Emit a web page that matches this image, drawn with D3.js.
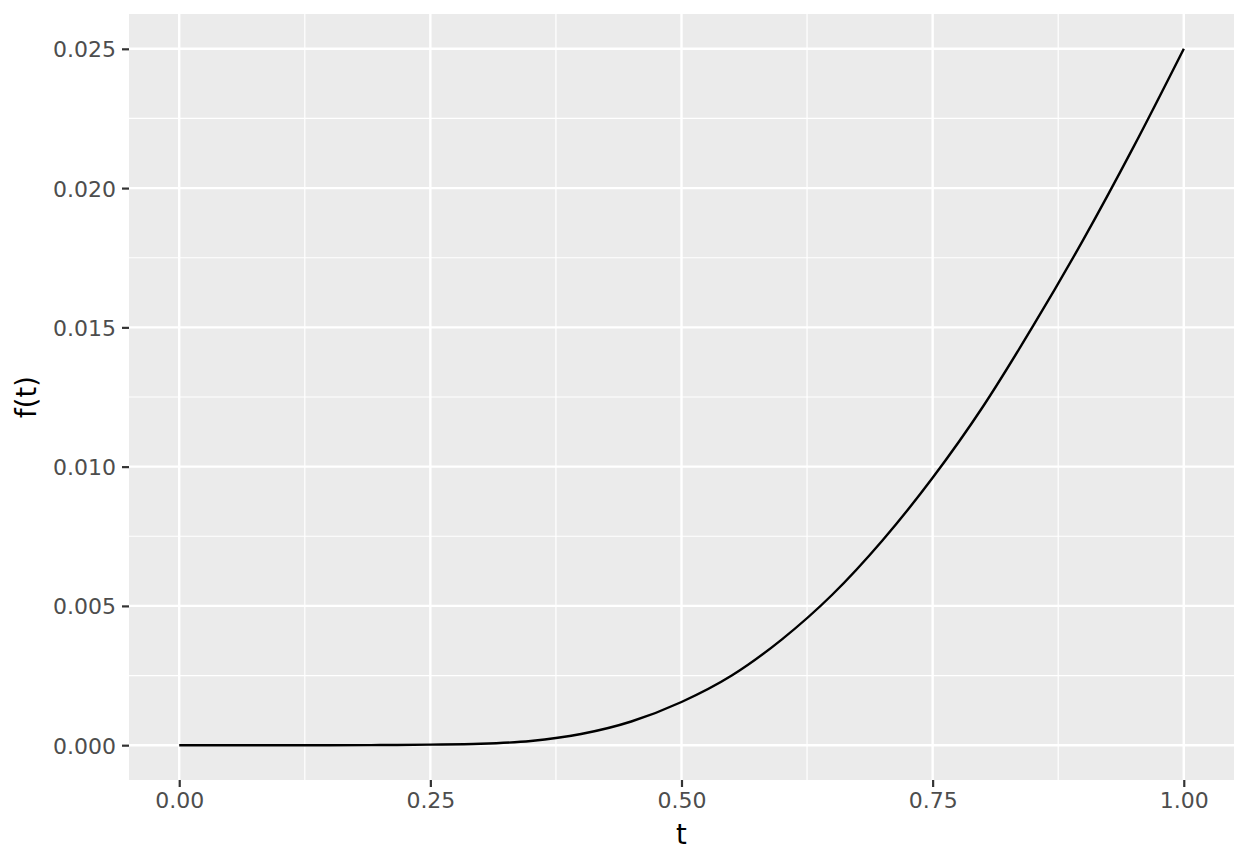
<!DOCTYPE html>
<html>
<head>
<meta charset="utf-8">
<script src="https://cdn.jsdelivr.net/npm/d3@7"></script>
<style>
  body { margin: 0; background: #fff; }
  svg { display: block; font-family: "DejaVu Sans", sans-serif; }
</style>
</head>
<body>
<svg id="chart" width="1248" height="865" viewBox="0 0 1248 865"></svg>
<script>
// values
const tValues = [0.00, 0.05, 0.10, 0.15, 0.20, 0.25, 0.30, 0.35, 0.40, 0.45, 0.50,
                 0.55, 0.60, 0.65, 0.70, 0.75, 0.80, 0.85, 0.90, 0.95, 1.00]
const fValues = [0, 0, 0, 0, 0.000005, 0.00002, 0.00005, 0.00015, 0.0004, 0.00085, 0.00155,
                 0.0025, 0.0038, 0.0054, 0.00735, 0.0096, 0.01215, 0.01505, 0.01815, 0.02148, 0.025]
const xTicks = [0, 0.25, 0.5, 0.75, 1]
const xMinor = [0.125, 0.375, 0.625, 0.875]
const yTicks = [0, 0.005, 0.01, 0.015, 0.02, 0.025]
const yMinor = [0.0025, 0.0075, 0.0125, 0.0175, 0.0225]

const svg = d3.select("#chart")
const panel = {left: 129, top: 14, right: 1234, bottom: 780}

const x = d3.scaleLinear()
    .domain([-0.05, 1.05])
    .range([panel.left, panel.right])
const y = d3.scaleLinear()
    .domain([-0.00125, 0.02625])
    .range([panel.bottom, panel.top])

// panel background
svg.append("rect")
    .attr("x", panel.left)
    .attr("y", panel.top)
    .attr("width", panel.right - panel.left)
    .attr("height", panel.bottom - panel.top)
    .attr("fill", "#EBEBEB")

const grid = svg.append("g").attr("stroke", "#fff")

grid.selectAll(".xminor").data(xMinor).enter().append("line")
    .attr("x1", d => x(d)).attr("x2", d => x(d))
    .attr("y1", panel.top).attr("y2", panel.bottom)
    .attr("stroke-width", 1.2)
grid.selectAll(".yminor").data(yMinor).enter().append("line")
    .attr("y1", d => y(d)).attr("y2", d => y(d))
    .attr("x1", panel.left).attr("x2", panel.right)
    .attr("stroke-width", 1.2)
grid.selectAll(".xmajor").data(xTicks).enter().append("line")
    .attr("x1", d => x(d)).attr("x2", d => x(d))
    .attr("y1", panel.top).attr("y2", panel.bottom)
    .attr("stroke-width", 2.4)
grid.selectAll(".ymajor").data(yTicks).enter().append("line")
    .attr("y1", d => y(d)).attr("y2", d => y(d))
    .attr("x1", panel.left).attr("x2", panel.right)
    .attr("stroke-width", 2.4)

// the curve
const points = tValues.map((t, i) => ({t: t, f: fValues[i]}))
const line = d3.line()
    .x(d => x(d.t))
    .y(d => y(d.f))
    .curve(d3.curveMonotoneX)

svg.append("path")
    .datum(points)
    .attr("d", line)
    .attr("fill", "none")
    .attr("stroke", "#000")
    .attr("stroke-width", 2.4)

// axes
const xAxis = svg.append("g")
    .attr("transform", `translate(0,${panel.bottom})`)
    .call(d3.axisBottom(x).tickValues(xTicks).tickFormat(d3.format(".2f")).tickSize(7).tickPadding(5))
const yAxis = svg.append("g")
    .attr("transform", `translate(${panel.left},0)`)
    .call(d3.axisLeft(y).tickValues(yTicks).tickFormat(d3.format(".3f")).tickSize(7).tickPadding(6))

svg.selectAll(".domain").remove()
svg.selectAll(".tick line").attr("stroke", "#333").attr("stroke-width", 2.2)
svg.selectAll(".tick text")
    .attr("fill", "#4D4D4D")
    .style("font-size", "22px")
    .style("font-family", "'DejaVu Sans', sans-serif")
yAxis.selectAll(".tick text").attr("dy", "0.36em")

// axis titles
svg.append("text")
    .attr("x", (panel.left + panel.right) / 2)
    .attr("y", 844)
    .attr("text-anchor", "middle")
    .style("font-size", "27.5px")
    .text("t")
svg.append("text")
    .attr("transform", `translate(36,${(panel.top + panel.bottom) / 2}) rotate(-90)`)
    .attr("text-anchor", "middle")
    .style("font-size", "27.5px")
    .text("f(t)")
</script>
</body>
</html>
